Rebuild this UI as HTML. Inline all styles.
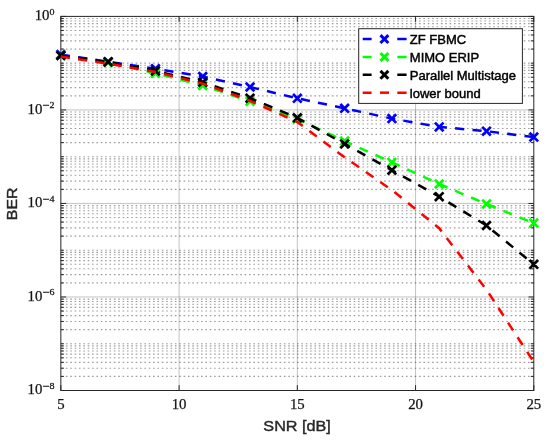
<!DOCTYPE html>
<html><head><meta charset="utf-8"><title>BER vs SNR</title>
<style>
html,body{margin:0;padding:0;background:#fff;}
svg{display:block;}
.mg{stroke:rgba(38,38,38,0.45);stroke-width:1.1;stroke-dasharray:1.6 2.76;stroke-dashoffset:3.67;fill:none;}
.Mg{stroke:rgba(38,38,38,0.28);stroke-width:1;fill:none;}
.tk{stroke:#262626;stroke-width:1;fill:none;}
.ax{stroke:#262626;stroke-width:1;fill:none;}
.tl{font-family:"Liberation Serif",serif;font-size:13.6px;fill:#141414;stroke:#141414;stroke-width:0.25px;}
.sup{font-size:9.2px;}
.mn{font-size:11.5px;}
.lg{font-family:"Liberation Sans",sans-serif;font-size:13px;fill:#000;stroke:#000;stroke-width:0.45px;}
.al{font-family:"Liberation Sans",sans-serif;font-size:15.3px;fill:#262626;stroke:#262626;stroke-width:0.4px;}
</style></head>
<body>
<svg width="550" height="443" viewBox="0 0 550 443">
<rect width="550" height="443" fill="#fff"/>
<line x1="60.85" y1="49.09" x2="533.8" y2="49.09" class="mg"/>
<line x1="60.85" y1="40.85" x2="533.8" y2="40.85" class="mg"/>
<line x1="60.85" y1="35.01" x2="533.8" y2="35.01" class="mg"/>
<line x1="60.85" y1="30.48" x2="533.8" y2="30.48" class="mg"/>
<line x1="60.85" y1="26.77" x2="533.8" y2="26.77" class="mg"/>
<line x1="60.85" y1="23.64" x2="533.8" y2="23.64" class="mg"/>
<line x1="60.85" y1="20.93" x2="533.8" y2="20.93" class="mg"/>
<line x1="60.85" y1="18.54" x2="533.8" y2="18.54" class="mg"/>
<line x1="60.85" y1="95.85" x2="533.8" y2="95.85" class="mg"/>
<line x1="60.85" y1="87.61" x2="533.8" y2="87.61" class="mg"/>
<line x1="60.85" y1="81.77" x2="533.8" y2="81.77" class="mg"/>
<line x1="60.85" y1="77.24" x2="533.8" y2="77.24" class="mg"/>
<line x1="60.85" y1="73.54" x2="533.8" y2="73.54" class="mg"/>
<line x1="60.85" y1="70.41" x2="533.8" y2="70.41" class="mg"/>
<line x1="60.85" y1="67.69" x2="533.8" y2="67.69" class="mg"/>
<line x1="60.85" y1="65.3" x2="533.8" y2="65.3" class="mg"/>
<line x1="60.85" y1="142.61" x2="533.8" y2="142.61" class="mg"/>
<line x1="60.85" y1="134.38" x2="533.8" y2="134.38" class="mg"/>
<line x1="60.85" y1="128.53" x2="533.8" y2="128.53" class="mg"/>
<line x1="60.85" y1="124" x2="533.8" y2="124" class="mg"/>
<line x1="60.85" y1="120.3" x2="533.8" y2="120.3" class="mg"/>
<line x1="60.85" y1="117.17" x2="533.8" y2="117.17" class="mg"/>
<line x1="60.85" y1="114.46" x2="533.8" y2="114.46" class="mg"/>
<line x1="60.85" y1="112.06" x2="533.8" y2="112.06" class="mg"/>
<line x1="60.85" y1="189.37" x2="533.8" y2="189.37" class="mg"/>
<line x1="60.85" y1="181.14" x2="533.8" y2="181.14" class="mg"/>
<line x1="60.85" y1="175.3" x2="533.8" y2="175.3" class="mg"/>
<line x1="60.85" y1="170.76" x2="533.8" y2="170.76" class="mg"/>
<line x1="60.85" y1="167.06" x2="533.8" y2="167.06" class="mg"/>
<line x1="60.85" y1="163.93" x2="533.8" y2="163.93" class="mg"/>
<line x1="60.85" y1="161.22" x2="533.8" y2="161.22" class="mg"/>
<line x1="60.85" y1="158.83" x2="533.8" y2="158.83" class="mg"/>
<line x1="60.85" y1="236.14" x2="533.8" y2="236.14" class="mg"/>
<line x1="60.85" y1="227.9" x2="533.8" y2="227.9" class="mg"/>
<line x1="60.85" y1="222.06" x2="533.8" y2="222.06" class="mg"/>
<line x1="60.85" y1="217.53" x2="533.8" y2="217.53" class="mg"/>
<line x1="60.85" y1="213.82" x2="533.8" y2="213.82" class="mg"/>
<line x1="60.85" y1="210.69" x2="533.8" y2="210.69" class="mg"/>
<line x1="60.85" y1="207.98" x2="533.8" y2="207.98" class="mg"/>
<line x1="60.85" y1="205.59" x2="533.8" y2="205.59" class="mg"/>
<line x1="60.85" y1="282.9" x2="533.8" y2="282.9" class="mg"/>
<line x1="60.85" y1="274.66" x2="533.8" y2="274.66" class="mg"/>
<line x1="60.85" y1="268.82" x2="533.8" y2="268.82" class="mg"/>
<line x1="60.85" y1="264.29" x2="533.8" y2="264.29" class="mg"/>
<line x1="60.85" y1="260.59" x2="533.8" y2="260.59" class="mg"/>
<line x1="60.85" y1="257.46" x2="533.8" y2="257.46" class="mg"/>
<line x1="60.85" y1="254.74" x2="533.8" y2="254.74" class="mg"/>
<line x1="60.85" y1="252.35" x2="533.8" y2="252.35" class="mg"/>
<line x1="60.85" y1="329.66" x2="533.8" y2="329.66" class="mg"/>
<line x1="60.85" y1="321.43" x2="533.8" y2="321.43" class="mg"/>
<line x1="60.85" y1="315.58" x2="533.8" y2="315.58" class="mg"/>
<line x1="60.85" y1="311.05" x2="533.8" y2="311.05" class="mg"/>
<line x1="60.85" y1="307.35" x2="533.8" y2="307.35" class="mg"/>
<line x1="60.85" y1="304.22" x2="533.8" y2="304.22" class="mg"/>
<line x1="60.85" y1="301.51" x2="533.8" y2="301.51" class="mg"/>
<line x1="60.85" y1="299.11" x2="533.8" y2="299.11" class="mg"/>
<line x1="60.85" y1="376.42" x2="533.8" y2="376.42" class="mg"/>
<line x1="60.85" y1="368.19" x2="533.8" y2="368.19" class="mg"/>
<line x1="60.85" y1="362.35" x2="533.8" y2="362.35" class="mg"/>
<line x1="60.85" y1="357.81" x2="533.8" y2="357.81" class="mg"/>
<line x1="60.85" y1="354.11" x2="533.8" y2="354.11" class="mg"/>
<line x1="60.85" y1="350.98" x2="533.8" y2="350.98" class="mg"/>
<line x1="60.85" y1="348.27" x2="533.8" y2="348.27" class="mg"/>
<line x1="60.85" y1="345.88" x2="533.8" y2="345.88" class="mg"/>
<line x1="60.85" y1="63.16" x2="533.8" y2="63.16" class="mg"/>
<line x1="60.85" y1="109.93" x2="533.8" y2="109.93" class="Mg"/>
<line x1="60.85" y1="156.69" x2="533.8" y2="156.69" class="mg"/>
<line x1="60.85" y1="203.45" x2="533.8" y2="203.45" class="Mg"/>
<line x1="60.85" y1="250.21" x2="533.8" y2="250.21" class="mg"/>
<line x1="60.85" y1="296.98" x2="533.8" y2="296.98" class="Mg"/>
<line x1="60.85" y1="343.74" x2="533.8" y2="343.74" class="mg"/>
<line x1="179.09" y1="16.4" x2="179.09" y2="390.5" class="Mg"/>
<line x1="297.32" y1="16.4" x2="297.32" y2="390.5" class="Mg"/>
<line x1="415.56" y1="16.4" x2="415.56" y2="390.5" class="Mg"/>
<path d="M60.85 390.5v-5.3M60.85 16.4v5.3M179.09 390.5v-5.3M179.09 16.4v5.3M297.32 390.5v-5.3M297.32 16.4v5.3M415.56 390.5v-5.3M415.56 16.4v5.3M533.8 390.5v-5.3M533.8 16.4v5.3M60.85 16.4h5.3M533.8 16.4h-5.3M60.85 63.16h3.0M533.8 63.16h-3.0M60.85 109.93h5.3M533.8 109.93h-5.3M60.85 156.69h3.0M533.8 156.69h-3.0M60.85 203.45h5.3M533.8 203.45h-5.3M60.85 250.21h3.0M533.8 250.21h-3.0M60.85 296.98h5.3M533.8 296.98h-5.3M60.85 343.74h3.0M533.8 343.74h-3.0M60.85 390.5h5.3M533.8 390.5h-5.3M60.85 49.09h3.0M533.8 49.09h-3.0M60.85 40.85h3.0M533.8 40.85h-3.0M60.85 35.01h3.0M533.8 35.01h-3.0M60.85 30.48h3.0M533.8 30.48h-3.0M60.85 26.77h3.0M533.8 26.77h-3.0M60.85 23.64h3.0M533.8 23.64h-3.0M60.85 20.93h3.0M533.8 20.93h-3.0M60.85 18.54h3.0M533.8 18.54h-3.0M60.85 95.85h3.0M533.8 95.85h-3.0M60.85 87.61h3.0M533.8 87.61h-3.0M60.85 81.77h3.0M533.8 81.77h-3.0M60.85 77.24h3.0M533.8 77.24h-3.0M60.85 73.54h3.0M533.8 73.54h-3.0M60.85 70.41h3.0M533.8 70.41h-3.0M60.85 67.69h3.0M533.8 67.69h-3.0M60.85 65.3h3.0M533.8 65.3h-3.0M60.85 142.61h3.0M533.8 142.61h-3.0M60.85 134.38h3.0M533.8 134.38h-3.0M60.85 128.53h3.0M533.8 128.53h-3.0M60.85 124h3.0M533.8 124h-3.0M60.85 120.3h3.0M533.8 120.3h-3.0M60.85 117.17h3.0M533.8 117.17h-3.0M60.85 114.46h3.0M533.8 114.46h-3.0M60.85 112.06h3.0M533.8 112.06h-3.0M60.85 189.37h3.0M533.8 189.37h-3.0M60.85 181.14h3.0M533.8 181.14h-3.0M60.85 175.3h3.0M533.8 175.3h-3.0M60.85 170.76h3.0M533.8 170.76h-3.0M60.85 167.06h3.0M533.8 167.06h-3.0M60.85 163.93h3.0M533.8 163.93h-3.0M60.85 161.22h3.0M533.8 161.22h-3.0M60.85 158.83h3.0M533.8 158.83h-3.0M60.85 236.14h3.0M533.8 236.14h-3.0M60.85 227.9h3.0M533.8 227.9h-3.0M60.85 222.06h3.0M533.8 222.06h-3.0M60.85 217.53h3.0M533.8 217.53h-3.0M60.85 213.82h3.0M533.8 213.82h-3.0M60.85 210.69h3.0M533.8 210.69h-3.0M60.85 207.98h3.0M533.8 207.98h-3.0M60.85 205.59h3.0M533.8 205.59h-3.0M60.85 282.9h3.0M533.8 282.9h-3.0M60.85 274.66h3.0M533.8 274.66h-3.0M60.85 268.82h3.0M533.8 268.82h-3.0M60.85 264.29h3.0M533.8 264.29h-3.0M60.85 260.59h3.0M533.8 260.59h-3.0M60.85 257.46h3.0M533.8 257.46h-3.0M60.85 254.74h3.0M533.8 254.74h-3.0M60.85 252.35h3.0M533.8 252.35h-3.0M60.85 329.66h3.0M533.8 329.66h-3.0M60.85 321.43h3.0M533.8 321.43h-3.0M60.85 315.58h3.0M533.8 315.58h-3.0M60.85 311.05h3.0M533.8 311.05h-3.0M60.85 307.35h3.0M533.8 307.35h-3.0M60.85 304.22h3.0M533.8 304.22h-3.0M60.85 301.51h3.0M533.8 301.51h-3.0M60.85 299.11h3.0M533.8 299.11h-3.0M60.85 376.42h3.0M533.8 376.42h-3.0M60.85 368.19h3.0M533.8 368.19h-3.0M60.85 362.35h3.0M533.8 362.35h-3.0M60.85 357.81h3.0M533.8 357.81h-3.0M60.85 354.11h3.0M533.8 354.11h-3.0M60.85 350.98h3.0M533.8 350.98h-3.0M60.85 348.27h3.0M533.8 348.27h-3.0M60.85 345.88h3.0M533.8 345.88h-3.0" class="tk"/>
<rect x="60.85" y="16.4" width="472.95" height="374.1" class="ax"/>
<polyline points="60.85,54.6 108.14,61.7 155.44,68.7 202.73,76.5 250.03,87 297.32,98.3 344.62,108.3 391.91,118.6 439.21,126.9 486.5,131.2 533.8,137.1" fill="none" stroke="#0000ff" stroke-width="2.5" stroke-dasharray="9.2 8.25"/>
<path d="M56.55 50.3l8.6 8.6M56.55 58.9l8.6 -8.6M103.84 57.4l8.6 8.6M103.84 66l8.6 -8.6M151.14 64.4l8.6 8.6M151.14 73l8.6 -8.6M198.43 72.2l8.6 8.6M198.43 80.8l8.6 -8.6M245.73 82.7l8.6 8.6M245.73 91.3l8.6 -8.6M293.02 94l8.6 8.6M293.02 102.6l8.6 -8.6M340.32 104l8.6 8.6M340.32 112.6l8.6 -8.6M387.61 114.3l8.6 8.6M387.61 122.9l8.6 -8.6M434.91 122.6l8.6 8.6M434.91 131.2l8.6 -8.6M482.2 126.9l8.6 8.6M482.2 135.5l8.6 -8.6M529.5 132.8l8.6 8.6M529.5 141.4l8.6 -8.6" fill="none" stroke="#0000ff" stroke-width="2.7"/>
<polyline points="60.85,55.5 108.14,62.5 155.44,73.2 202.73,85.5 250.03,101.3 297.32,118.9 344.62,141.1 391.91,162.4 439.21,184 486.5,204 533.8,223.1" fill="none" stroke="#00ff00" stroke-width="2.5" stroke-dasharray="9.2 8.25"/>
<path d="M56.55 51.2l8.6 8.6M56.55 59.8l8.6 -8.6M103.84 58.2l8.6 8.6M103.84 66.8l8.6 -8.6M151.14 68.9l8.6 8.6M151.14 77.5l8.6 -8.6M198.43 81.2l8.6 8.6M198.43 89.8l8.6 -8.6M245.73 97l8.6 8.6M245.73 105.6l8.6 -8.6M293.02 114.6l8.6 8.6M293.02 123.2l8.6 -8.6M340.32 136.8l8.6 8.6M340.32 145.4l8.6 -8.6M387.61 158.1l8.6 8.6M387.61 166.7l8.6 -8.6M434.91 179.7l8.6 8.6M434.91 188.3l8.6 -8.6M482.2 199.7l8.6 8.6M482.2 208.3l8.6 -8.6M529.5 218.8l8.6 8.6M529.5 227.4l8.6 -8.6" fill="none" stroke="#00ff00" stroke-width="2.7"/>
<polyline points="60.85,55.5 108.14,61.9 155.44,70.9 202.73,82.3 250.03,98.2 297.32,117.8 344.62,143.9 391.91,170.2 439.21,196.7 486.5,225.5 533.8,264.3" fill="none" stroke="#000000" stroke-width="2.5" stroke-dasharray="9.2 8.25"/>
<path d="M56.55 51.2l8.6 8.6M56.55 59.8l8.6 -8.6M103.84 57.6l8.6 8.6M103.84 66.2l8.6 -8.6M151.14 66.6l8.6 8.6M151.14 75.2l8.6 -8.6M198.43 78l8.6 8.6M198.43 86.6l8.6 -8.6M245.73 93.9l8.6 8.6M245.73 102.5l8.6 -8.6M293.02 113.5l8.6 8.6M293.02 122.1l8.6 -8.6M340.32 139.6l8.6 8.6M340.32 148.2l8.6 -8.6M387.61 165.9l8.6 8.6M387.61 174.5l8.6 -8.6M434.91 192.4l8.6 8.6M434.91 201l8.6 -8.6M482.2 221.2l8.6 8.6M482.2 229.8l8.6 -8.6M529.5 260l8.6 8.6M529.5 268.6l8.6 -8.6" fill="none" stroke="#000000" stroke-width="2.7"/>
<polyline points="60.85,56.6 108.14,63.7 155.44,72 202.73,83.6 250.03,100.8 297.32,122 344.62,157.3 391.91,190 439.21,228.2 486.5,289.7 533.8,362" fill="none" stroke="#ff0000" stroke-width="2.5" stroke-dasharray="9.2 8.25"/>
<rect x="358.7" y="28.7" width="163.7" height="74.7" fill="#fff" stroke="#262626" stroke-width="1"/>
<path d="M362.7 39.05H371.6M397.3 39.05H406.6" stroke="#0000ff" stroke-width="2.5" fill="none"/>
<path d="M380.45 35.1l7.9 7.9M380.45 43l7.9 -7.9" stroke="#0000ff" stroke-width="3" fill="none"/>
<text x="409.8" y="43.75" class="lg">ZF FBMC</text>
<path d="M362.7 56.92H371.6M397.3 56.92H406.6" stroke="#00ff00" stroke-width="2.5" fill="none"/>
<path d="M380.45 52.97l7.9 7.9M380.45 60.87l7.9 -7.9" stroke="#00ff00" stroke-width="3" fill="none"/>
<text x="409.8" y="61.84" class="lg">MIMO ERIP</text>
<path d="M362.7 74.79H371.6M397.3 74.79H406.6" stroke="#000000" stroke-width="2.5" fill="none"/>
<path d="M380.45 70.84l7.9 7.9M380.45 78.74l7.9 -7.9" stroke="#000000" stroke-width="3" fill="none"/>
<text x="409.8" y="79.93" class="lg">Parallel Multistage</text>
<path d="M362.7 92.66H371.6M397.3 92.66H406.6" stroke="#ff0000" stroke-width="2.5" fill="none"/>
<path d="M380 92.66H389" stroke="#ff0000" stroke-width="2.5" fill="none"/>
<text x="409.8" y="98.02" class="lg">lower bound</text>
<text transform="translate(60.85 408.6) scale(1.09 1)" class="tl" text-anchor="middle">5</text>
<text transform="translate(179.09 408.6) scale(1.09 1)" class="tl" text-anchor="middle">10</text>
<text transform="translate(297.32 408.6) scale(1.09 1)" class="tl" text-anchor="middle">15</text>
<text transform="translate(415.56 408.6) scale(1.09 1)" class="tl" text-anchor="middle">20</text>
<text transform="translate(533.8 408.6) scale(1.09 1)" class="tl" text-anchor="middle">25</text>
<text transform="translate(54.5 20) scale(1.09 1)" class="tl" text-anchor="end">10<tspan class="sup" dy="-5.1">0</tspan></text>
<text transform="translate(54.5 113.53) scale(1.09 1)" class="tl" text-anchor="end">10<tspan class="sup mn" dy="-4.3">&#8722;</tspan><tspan class="sup" dy="-0.8">2</tspan></text>
<text transform="translate(54.5 207.05) scale(1.09 1)" class="tl" text-anchor="end">10<tspan class="sup mn" dy="-4.3">&#8722;</tspan><tspan class="sup" dy="-0.8">4</tspan></text>
<text transform="translate(54.5 300.58) scale(1.09 1)" class="tl" text-anchor="end">10<tspan class="sup mn" dy="-4.3">&#8722;</tspan><tspan class="sup" dy="-0.8">6</tspan></text>
<text transform="translate(54.5 394.1) scale(1.09 1)" class="tl" text-anchor="end">10<tspan class="sup mn" dy="-4.3">&#8722;</tspan><tspan class="sup" dy="-0.8">8</tspan></text>
<text transform="translate(297.1 431.1) scale(1.06 1)" class="al" text-anchor="middle">SNR [dB]</text>
<text transform="translate(17.1 203.8) rotate(-90) scale(1.04 1)" class="al" text-anchor="middle">BER</text>
</svg>
</body></html>
